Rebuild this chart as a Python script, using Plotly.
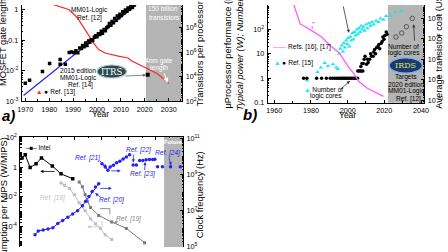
import plotly.graph_objects as go

W, H = 448, 252
FONT = "Liberation Sans"


def px(x):
    return x / W


def py(y):
    return 1 - y / H


# ---------------- panel a) data ----------------
a_dot_years = [1970.0, 1971.8, 1977.2, 1980.2, 1984.6, 1984.6, 1986.8, 1988.4, 1989.4,
               1990.5, 1991.2, 1992.0, 1992.8, 1993.5, 1994.0, 1994.6, 1995.3, 1995.8, 1996.5,
               1997.0, 1997.6, 1998.2, 1998.9, 1999.4, 2000.0, 2000.6, 2001.2, 2001.8, 2002.3,
               2003.0, 2003.5, 2004.1, 2004.7, 2005.2, 2005.8, 2006.3, 2006.9, 2007.4, 2008.0,
               2008.5, 2009.1, 2009.6, 2010.2, 2010.8, 2011.3, 2011.9, 2012.5, 2013.0, 2013.6,
               2014.2, 2014.8, 2015.5]
a_dot_transistors = [2.8e3, 5.0e3, 2.6e4, 1.15e5, 1.0e5, 2.5e5, 1.0e5, 9.3e5, 1.0e6,
                     8.9e5, 1.26e6, 8.9e5, 2.2e6, 2.0e6, 3.5e6, 2.8e6, 5.6e6, 3.5e6, 7.9e6,
                     6.3e6, 1.0e7, 8.9e6, 1.6e7, 2.2e7, 1.8e7, 3.2e7, 2.8e7, 5.0e7, 3.5e7,
                     7.1e7, 5.6e7, 1.0e8, 1.26e8, 2.2e8, 1.6e8, 3.2e8, 2.5e8, 5.6e8, 4.0e8,
                     8.9e8, 6.3e8, 1.26e9, 1.0e9, 2.0e9, 1.6e9, 2.8e9, 2.2e9, 4.0e9, 3.2e9,
                     5.6e9, 4.5e9, 7.1e9]
a_trend_years = [1969.3, 2016.4]
a_trend_transistors = [2.8e2, 7.1e9]
a_gate_years = [1979.0, 1982.3, 1988.4, 1991.8, 1993.9, 1995.9, 1997.3, 1998.7, 2000.7,
                2003.4, 2008.9, 2013.0, 2014.4, 2018.5, 2025.3, 2030.1]
a_gate_um = [1.75, 1.44, 1.0, 0.55, 0.30, 0.18, 0.11, 0.079, 0.049,
             0.038, 0.030, 0.026, 0.021, 0.0144, 0.0079, 0.0038]
a_target_years = [2021.2]
a_target_um = [0.0073]
a_x_ticks = [1970, 1980, 1990, 2000, 2010, 2020, 2030]
a_left_ticks = [1e-3, 1e-2, 0.1, 1]
a_left_text = ["10<sup>-3</sup>", "10<sup>-2</sup>", "0.1", "1"]
a_right_ticks = [1e2, 1e4, 1e6, 1e8, 1e10]
a_right_text = ["10<sup>2</sup>", "10<sup>4</sup>", "10<sup>6</sup>", "10<sup>8</sup>", "10<sup>10</sup>"]

# ---------------- panel b) data ----------------
b_core_years = [1976.0, 1977.8, 1983.1, 1985.8, 1988.4, 1990.5, 1991.8, 1993.0, 1994.0,
                1995.0, 1995.8, 1996.6, 1997.4, 1998.2, 1999.0, 1999.8, 2000.6, 2001.4,
                2002.2, 2003.0, 2003.8, 2004.6, 2005.4,
                2005.5, 2006.2, 2006.9, 2007.6, 2008.3,
                2007.2, 2007.8, 2008.5, 2009.0, 2009.5,
                2010.3, 2010.8, 2011.2, 2012.0, 2012.5, 2013.0, 2013.9, 2014.2, 2014.7,
                2015.2, 2015.8, 2016.5, 2017.0, 2017.5, 2018.3, 2018.8, 2019.2, 2019.8,
                2020.3, 2021.0, 2021.5]
b_core_counts = [1, 1, 1, 1, 1, 1, 1, 1, 1,
                 1, 1, 1, 1, 1, 1, 1, 1, 1,
                 1, 1, 1, 1, 1,
                 2, 2, 2, 2, 2,
                 3, 4, 4, 6, 8,
                 3.7, 6, 4.4, 6, 10, 8, 8, 12, 15,
                 10, 18, 20, 24, 16, 27, 32, 49, 40,
                 56, 78, 64]
b_target_years = [2026.3, 2029.5, 2032.0, 2035.2]
b_target_cores = [49, 71, 129, 282]
b_perf_years = [1977.8, 1983.6, 1985.4, 1987.5, 1989.3, 1992.0, 1993.8, 1994.7,
                1995.5, 1996.0, 1996.8, 1997.5, 1998.0, 1998.5, 1999.2, 1999.8, 2000.3,
                2000.9, 2001.5, 2002.0, 2002.6, 2003.2, 2003.8, 2004.3, 2005.0, 2005.6,
                2006.2, 2006.8, 2007.4, 2008.0, 2008.6, 2009.2, 2010.0, 2010.8, 2011.6,
                2012.4, 2013.3, 2014.2, 2015.5, 2016.8, 2018.0, 2019.5, 2021.0, 2023.5,
                2026.0, 2029.0]
b_perf_values = [0.83, 1.8, 2.75, 4.2, 3.2, 3.7, 2.75, 2.4,
                 10, 16, 22, 12.6, 28, 18, 35, 25, 45,
                 20, 50, 35, 71, 40, 79, 56, 100, 63,
                 112, 79, 141, 100, 126, 89, 158, 112, 178,
                 141, 200, 158, 224, 200, 282, 251, 355, 355,
                 500, 562]
b_cost_years = [1969.0, 1970.7, 1974.2, 1976.0, 1980.4, 1985.8, 1991.1, 1995.5, 2000.0,
                2003.5, 2006.2, 2010.7, 2016.0, 2019.5]
b_cost_usd = [0.5, 0.19, 2.6e-3, 1.8e-3, 6.0e-4, 1.45e-4, 1.7e-5, 4.0e-6, 2.2e-7,
              3.7e-8, 6.2e-9, 1.45e-9, 4.9e-10, 2.4e-10]
b_x_ticks = [1960, 1980, 2000, 2020, 2040]
b_left_ticks = [0.1, 1, 10, 100]
b_left_text = ["0.1", "1", "10", "10<sup>2</sup>"]
b_right_ticks = [1e-10, 1e-8, 1e-6, 1e-4, 1e-2]
b_right_text = ["10<sup>-10</sup>", "10<sup>-8</sup>", "10<sup>-6</sup>", "10<sup>-4</sup>", "10<sup>-2</sup>"]

# ---------------- panel c) data ----------------
c_intel_years = [1970.6, 1971.8, 1973.6, 1975.8, 1977.8, 1981.8, 1985.0, 1989.3]
c_intel_w_per_mips = [4.1, 6.6, 0.93, 1.66, 4.1, 1.17, 0.35, 0.166]
c_ref19_years = [1991.7, 1992.9, 1993.9, 1994.7, 1995.9, 1998.9, 2003.7, 2009.1, 2015.8]
c_ref19_w_per_mips = [0.1, 0.048, 0.0138, 5.2e-3, 1.94e-3, 5.7e-4, 2.1e-4, 7.8e-5, 8.5e-6]
c_ref18_years = [1985.0, 1986.3, 1988.1, 1989.9, 1991.7, 1993.9, 1995.9, 1997.7, 1999.5,
                 2001.3, 2003.7]
c_ref18_w_per_mips = [0.087, 0.060, 0.037, 0.0138, 4.1e-3, 1.2e-3, 3.4e-4, 1.6e-4, 7.8e-5,
                      2.9e-5, 1.4e-5]
c_ref20_years = [1975.4, 1976.6, 1978.4, 1980.2, 1982.0, 1983.8, 1985.6, 1987.5, 1989.3,
                 1991.1, 1992.9, 1994.1, 1995.3, 1996.5, 1997.7, 1998.9]
c_ref20_hz = [4.7e5, 7.6e5, 8.5e5, 9.7e5, 1.15e6, 1.95e6, 2.9e6, 4.4e6, 6.6e6,
              1.0e7, 1.9e7, 3.4e7, 6.3e7, 1.17e8, 2.1e8, 3.2e8]
c_ref21_years = [2000.1, 2001.3, 2002.3, 2003.1, 2004.3, 2005.5, 2006.7, 2007.9, 2009.1, 2010.3]
c_ref21_hz = [4.1e9, 2.7e9, 1.8e9, 2.7e9, 3.4e9, 4.6e9, 5.6e9, 7.5e9, 9.7e9, 1.3e10]
c_ref23_years = [2011.6, 2012.8, 2014.0, 2015.2, 2016.4, 2017.6, 2018.8, 2019.6]
c_ref23_hz = [3.5e9, 3.5e9, 6.2e9, 6.2e9, 6.7e9, 7.0e9, 7.0e9, 7.2e9]
c_ref24_years = [2020.6, 2022.4, 2025.4, 2029.0]
c_ref24_hz = [2.8e9, 2.8e9, 2.8e9, 2.8e9]
c_left_ticks = [1e-4, 1e-2, 1, 1e2]
c_left_text = ["10<sup>-4</sup>", "10<sup>-2</sup>", "1", "10<sup>2</sup>"]
c_right_ticks = [1e5, 1e7, 1e9, 1e11]
c_right_text = ["10<sup>5</sup>", "10<sup>7</sup>", "10<sup>9</sup>", "10<sup>11</sup>"]

BLUE = "#2424f5"
RED = "#ff2626"
MAGENTA = "#ff5cff"
CYAN = "#22e4f2"
GRAY_REGION = "#b4b4b4"

fig = go.Figure()

# panel a
fig.add_trace(go.Scatter(x=a_trend_years, y=a_trend_transistors, xaxis="x", yaxis="y2",
                         mode="lines", line=dict(color=BLUE, width=1.2)))
fig.add_trace(go.Scatter(x=a_dot_years, y=a_dot_transistors, xaxis="x", yaxis="y2",
                         mode="markers", marker=dict(color="black", size=3.5, symbol="square")))
fig.add_trace(go.Scatter(x=a_gate_years, y=a_gate_um, xaxis="x", yaxis="y",
                         mode="lines", line=dict(color=RED, width=1.2)))
fig.add_trace(go.Scatter(x=a_target_years, y=a_target_um, xaxis="x", yaxis="y",
                         mode="markers", marker=dict(color="black", size=4, symbol="square")))

# panel b
fig.add_trace(go.Scatter(x=b_cost_years, y=b_cost_usd, xaxis="x2", yaxis="y4",
                         mode="lines", line=dict(color=MAGENTA, width=1.3)))
fig.add_trace(go.Scatter(x=b_perf_years, y=b_perf_values, xaxis="x2", yaxis="y3",
                         mode="markers", marker=dict(color=CYAN, size=4, symbol="triangle-up")))
fig.add_trace(go.Scatter(x=b_core_years, y=b_core_counts, xaxis="x2", yaxis="y3",
                         mode="markers", marker=dict(color="black", size=3.5, symbol="circle")))
fig.add_trace(go.Scatter(x=b_target_years, y=b_target_cores, xaxis="x2", yaxis="y3",
                         mode="markers", marker=dict(color="rgba(0,0,0,0)", size=4.5, symbol="circle",
                                                     line=dict(color="#555555", width=1))))

# panel c
fig.add_trace(go.Scatter(x=c_ref18_years, y=c_ref18_w_per_mips, xaxis="x3", yaxis="y5",
                         mode="lines+markers", line=dict(color="#bdbdbd", width=1),
                         marker=dict(color="#bdbdbd", size=3, symbol="square")))
fig.add_trace(go.Scatter(x=c_ref19_years, y=c_ref19_w_per_mips, xaxis="x3", yaxis="y5",
                         mode="lines+markers", line=dict(color="#7a7a7a", width=1),
                         marker=dict(color="#7a7a7a", size=3, symbol="square")))
fig.add_trace(go.Scatter(x=c_intel_years, y=c_intel_w_per_mips, xaxis="x3", yaxis="y5",
                         mode="lines+markers", line=dict(color="black", width=1),
                         marker=dict(color="black", size=3.5, symbol="square")))
for xs, ys, mode in [(c_ref20_years, c_ref20_hz, "lines+markers"),
                     (c_ref21_years, c_ref21_hz, "lines+markers"),
                     (c_ref23_years, c_ref23_hz, "markers"),
                     (c_ref24_years, c_ref24_hz, "markers")]:
    fig.add_trace(go.Scatter(x=xs, y=ys, xaxis="x3", yaxis="y6", mode=mode,
                             line=dict(color=BLUE, width=1),
                             marker=dict(color=BLUE, size=3.5, symbol="circle")))

tickfont = dict(family=FONT, size=7.2, color="black")
minor_log = dict(ticks="inside", ticklen=1.5, tickcolor="black", dtick="D1", showgrid=False)


def xax(domain, rng, ticks, anchor, side="bottom", labels=True):
    return dict(domain=domain, range=rng, tickmode="array", tickvals=ticks, anchor=anchor,
                side=side, showticklabels=labels, ticks="inside", ticklen=3, tickcolor="black",
                showline=True, linecolor="black", linewidth=1, showgrid=False, zeroline=False,
                tickfont=tickfont, ticklabelstandoff=1,
                minor=dict(ticks="inside", ticklen=1.8, tickcolor="black", dtick=5, tick0=1970,
                           showgrid=False))


def yax(domain, rng, ticks, text, anchor, side="left", overlaying=None):
    d = dict(type="log", range=rng, tickmode="array", tickvals=ticks, ticktext=text,
             anchor=anchor, side=side, ticks="inside", ticklen=3, tickcolor="black",
             showline=True, linecolor="black", linewidth=1, showgrid=False, zeroline=False,
             tickfont=tickfont, minor=minor_log, ticklabelstandoff=1)
    if domain is not None:
        d["domain"] = domain
    if overlaying:
        d["overlaying"] = overlaying
    return d


fig.update_layout(
    width=W, height=H, margin=dict(l=0, r=0, t=0, b=0), autosize=False,
    paper_bgcolor="white", plot_bgcolor="rgba(0,0,0,0)", showlegend=False,
    font=dict(family=FONT, size=7.2, color="black"),
    xaxis=xax([px(18), px(182)], [1968.5, 2035.7], a_x_ticks, "y"),
    yaxis=yax([py(100), 1], [-3, 0.158], a_left_ticks, a_left_text, "x"),
    yaxis2=yax(None, [2, 9.85], a_right_ticks, a_right_text, "x", side="right", overlaying="y"),
    xaxis2=xax([px(269), px(429)], [1956.4, 2041.8], b_x_ticks, "y3"),
    yaxis3=yax([py(101.7), 1], [-1, 3.0], b_left_ticks, b_left_text, "x2"),
    yaxis4=yax(None, [-10.24, -0.72], b_right_ticks, b_right_text, "x2", side="right", overlaying="y3"),
    xaxis3=xax([px(16.7), px(182.7)], [1970, 2030], [1970, 1980, 1990, 2000, 2010, 2020, 2030],
               "y5", side="top", labels=False),
    yaxis5=yax([0, py(137)], [-5.35, 2.04], c_left_ticks, c_left_text, "x3"),
    yaxis6=yax(None, [4.99, 11.12], c_right_ticks, c_right_text, "x3", side="right", overlaying="y5"),
)
fig.update_layout(xaxis2=dict(minor=dict(dtick=10, tick0=1960)))


def ppath(points):
    return " ".join(("M" if i == 0 else "L") + f" {px(x):.5f},{py(y):.5f}"
                    for i, (x, y) in enumerate(points))


shapes = [
    dict(type="rect", xref="x", yref="y domain", x0=2020.5, x1=2035.7, y0=0, y1=1,
         fillcolor=GRAY_REGION, line=dict(width=0), layer="below"),
    dict(type="rect", xref="x2", yref="y3 domain", x0=2022, x1=2041.8, y0=0, y1=1,
         fillcolor=GRAY_REGION, line=dict(width=0), layer="below"),
    dict(type="rect", xref="x3", yref="y5 domain", x0=2023, x1=2030, y0=0, y1=1,
         fillcolor=GRAY_REGION, line=dict(width=0), layer="below"),
    # ITRS logo
    dict(type="circle", xref="paper", yref="paper", x0=px(95), x1=px(125), y0=py(76), y1=py(62.5),
         fillcolor="#2d4b4f", line=dict(color="#a8c4c4", width=1.2)),
    # IRDS logo
    dict(type="circle", xref="paper", yref="paper", x0=px(393), x1=px(427), y0=py(71), y1=py(55),
         fillcolor="#1c3a6c", line=dict(color="#7fb0ea", width=1.5)),
    # small bracket pointers
    dict(type="path", xref="paper", yref="paper", path=ppath([(314.5, 25), (314.5, 18.5), (320, 18.5)]),
         line=dict(color=MAGENTA, width=1, dash="dot")),
    dict(type="path", xref="paper", yref="paper", path=ppath([(98, 212), (108, 212), (108, 218)]),
         line=dict(color="#7a7a7a", width=0.8)),
    dict(type="path", xref="paper", yref="paper", path=ppath([(100, 225), (100, 231)]),
         line=dict(color="#c4c4c4", width=0.8)),
]

ann = []


def txt(x, y, s, size=6.6, color="black", xanchor="center", yanchor="middle", angle=0,
        family=FONT):
    ann.append(dict(x=px(x), y=py(y), xref="paper", yref="paper", text=s, showarrow=False,
                    xanchor=xanchor, yanchor=yanchor, textangle=angle,
                    font=dict(size=size, color=color, family=family)))


def arrow(x0, y0, x1, y1, color="black", width=0.8, head=2, size=1):
    ann.append(dict(x=px(x1), y=py(y1), xref="paper", yref="paper", ax=x0 - x1, ay=y0 - y1,
                    axref="pixel", ayref="pixel", text="", showarrow=True, arrowhead=head,
                    arrowsize=size, arrowwidth=width, arrowcolor=color))


# panel a labels
txt(87, 5, "MM01-Logic")
txt(87, 13.5, "Ref. [12]")
txt(162, 4, "150 billion", color="white")
txt(164, 13, "transistors", color="white")
txt(158, 58, "4nm gate", color="white")
txt(158, 65.5, "length", color="white")
arrow(163, 70, 167, 81, color="white", width=1)
txt(76, 68.5, "2015 edition")
txt(76, 76, "MM01-Logic")
txt(78, 83, "Ref. [14]")
txt(110, 69.5, "ITRS", size=8.5, color="white", family="DejaVu Serif")
arrow(123, 74, 145, 73, color="#666666", width=0.8, head=2, size=0.8)
txt(31, 90.5, "<span style='color:#ff2626'>▲</span> ● Ref. [13]", xanchor="left")
txt(98, 114, "Year", size=8.5)
txt(5, 115, "<b><i>a)</i></b>", size=15)
txt(-1, 87, "MOSFET gate length (μm)", size=9.3, angle=-90, yanchor="bottom")
txt(200, 107, "Transistors per processor", size=9.3, angle=-90, yanchor="bottom")

# panel b labels
txt(272, 43.5, "<span style='color:#ff5cff'>——</span> Refs. [16], [17]", xanchor="left")
txt(274, 60, "<span style='color:#22e4f2'>▲</span> ● Ref. [15]", xanchor="left")
txt(304, 87.5, "<span style='color:#22e4f2'>▲</span> Number of", xanchor="left")
txt(310, 95, "logic cores", xanchor="left")
arrow(342, 89, 353, 79, color="#333333", width=0.8, size=0.8)
arrow(346, 1, 352, 29, color="#333333", width=0.8, size=0.8)
txt(408, 43.5, "Number of")
txt(408, 50.5, "logic cores")
arrow(419, 38, 418, 20, color="#333333", width=0.8, size=0.8)
txt(410, 63, "IRDS", size=8, color="#dfe07a", family="DejaVu Serif")
txt(410, 75, "Targets")
txt(410, 82.5, "2020 edition")
txt(411, 90, "MM01-Logic")
txt(413, 98, "Ref. [12]")
txt(351, 114.5, "Year", size=8.5)
txt(251, 114, "<b><i>b)</i></b>", size=15)
txt(229, 110, "μProcessor performance (MIPS)", size=9.3, angle=-90, yanchor="bottom")
txt(240, 112, "<i>Typical power (W); Number of logic cores</i>", size=9.3, angle=-90, yanchor="bottom")
txt(444, 110, "Average transistor cost (US$)", size=9.3, angle=-90, yanchor="bottom")

# panel c labels
txt(20, 148.7, "–■– Intel", size=6.3, xanchor="left")
txt(173, 142.5, "<b>Future</b>", size=5.8, color="white")
arrow(53, 173.3, 37, 173.3, color="black", width=0.8, size=0.8)
txt(85, 159.5, "<i>Ref. [21]</i>", color=BLUE)
arrow(96, 161, 105, 169, color=BLUE, width=0.8, size=0.8)
arrow(108, 172.7, 119, 172.7, color=BLUE, width=0.8, size=0.8)
txt(137, 151, "<i>Ref. [22]</i>", color=BLUE)
arrow(132, 154.5, 132, 164, color=BLUE, width=0.8, size=0.8)
txt(141, 176.5, "<i>Ref. [23]</i>", color=BLUE)
arrow(143.5, 173, 144, 163.5, color=BLUE, width=0.8, size=0.8)
txt(167, 154, "<i>Ref. [24]</i>", color=BLUE)
arrow(168, 157.5, 170.5, 167, color=BLUE, width=0.8, size=0.8)
txt(110, 202.7, "<i>Ref. [20]</i>", color=BLUE)
arrow(100, 201, 93, 196, color=BLUE, width=0.8, size=0.8)
arrow(97, 191, 110, 191, color=BLUE, width=0.8, size=0.8)
txt(127, 222.7, "<i>Ref. [19]</i>", color="#888888")
arrow(118, 224.5, 112, 227.5, color="#888888", width=0.8, size=0.8)
txt(50, 201, "<i>Ref. [18]</i>", color="#c4c4c4")
arrow(100, 231, 85, 231, color="#c4c4c4", width=0.8, size=0.8)
txt(-0.5, 136, "Power consumption per MIPS (W/MIPS)", size=9.3, angle=-90, yanchor="top")
txt(200, 197, "Clock frequency (Hz)", size=9.3, angle=-90)

fig.update_layout(shapes=shapes, annotations=ann)
fig.write_html("out.html")
